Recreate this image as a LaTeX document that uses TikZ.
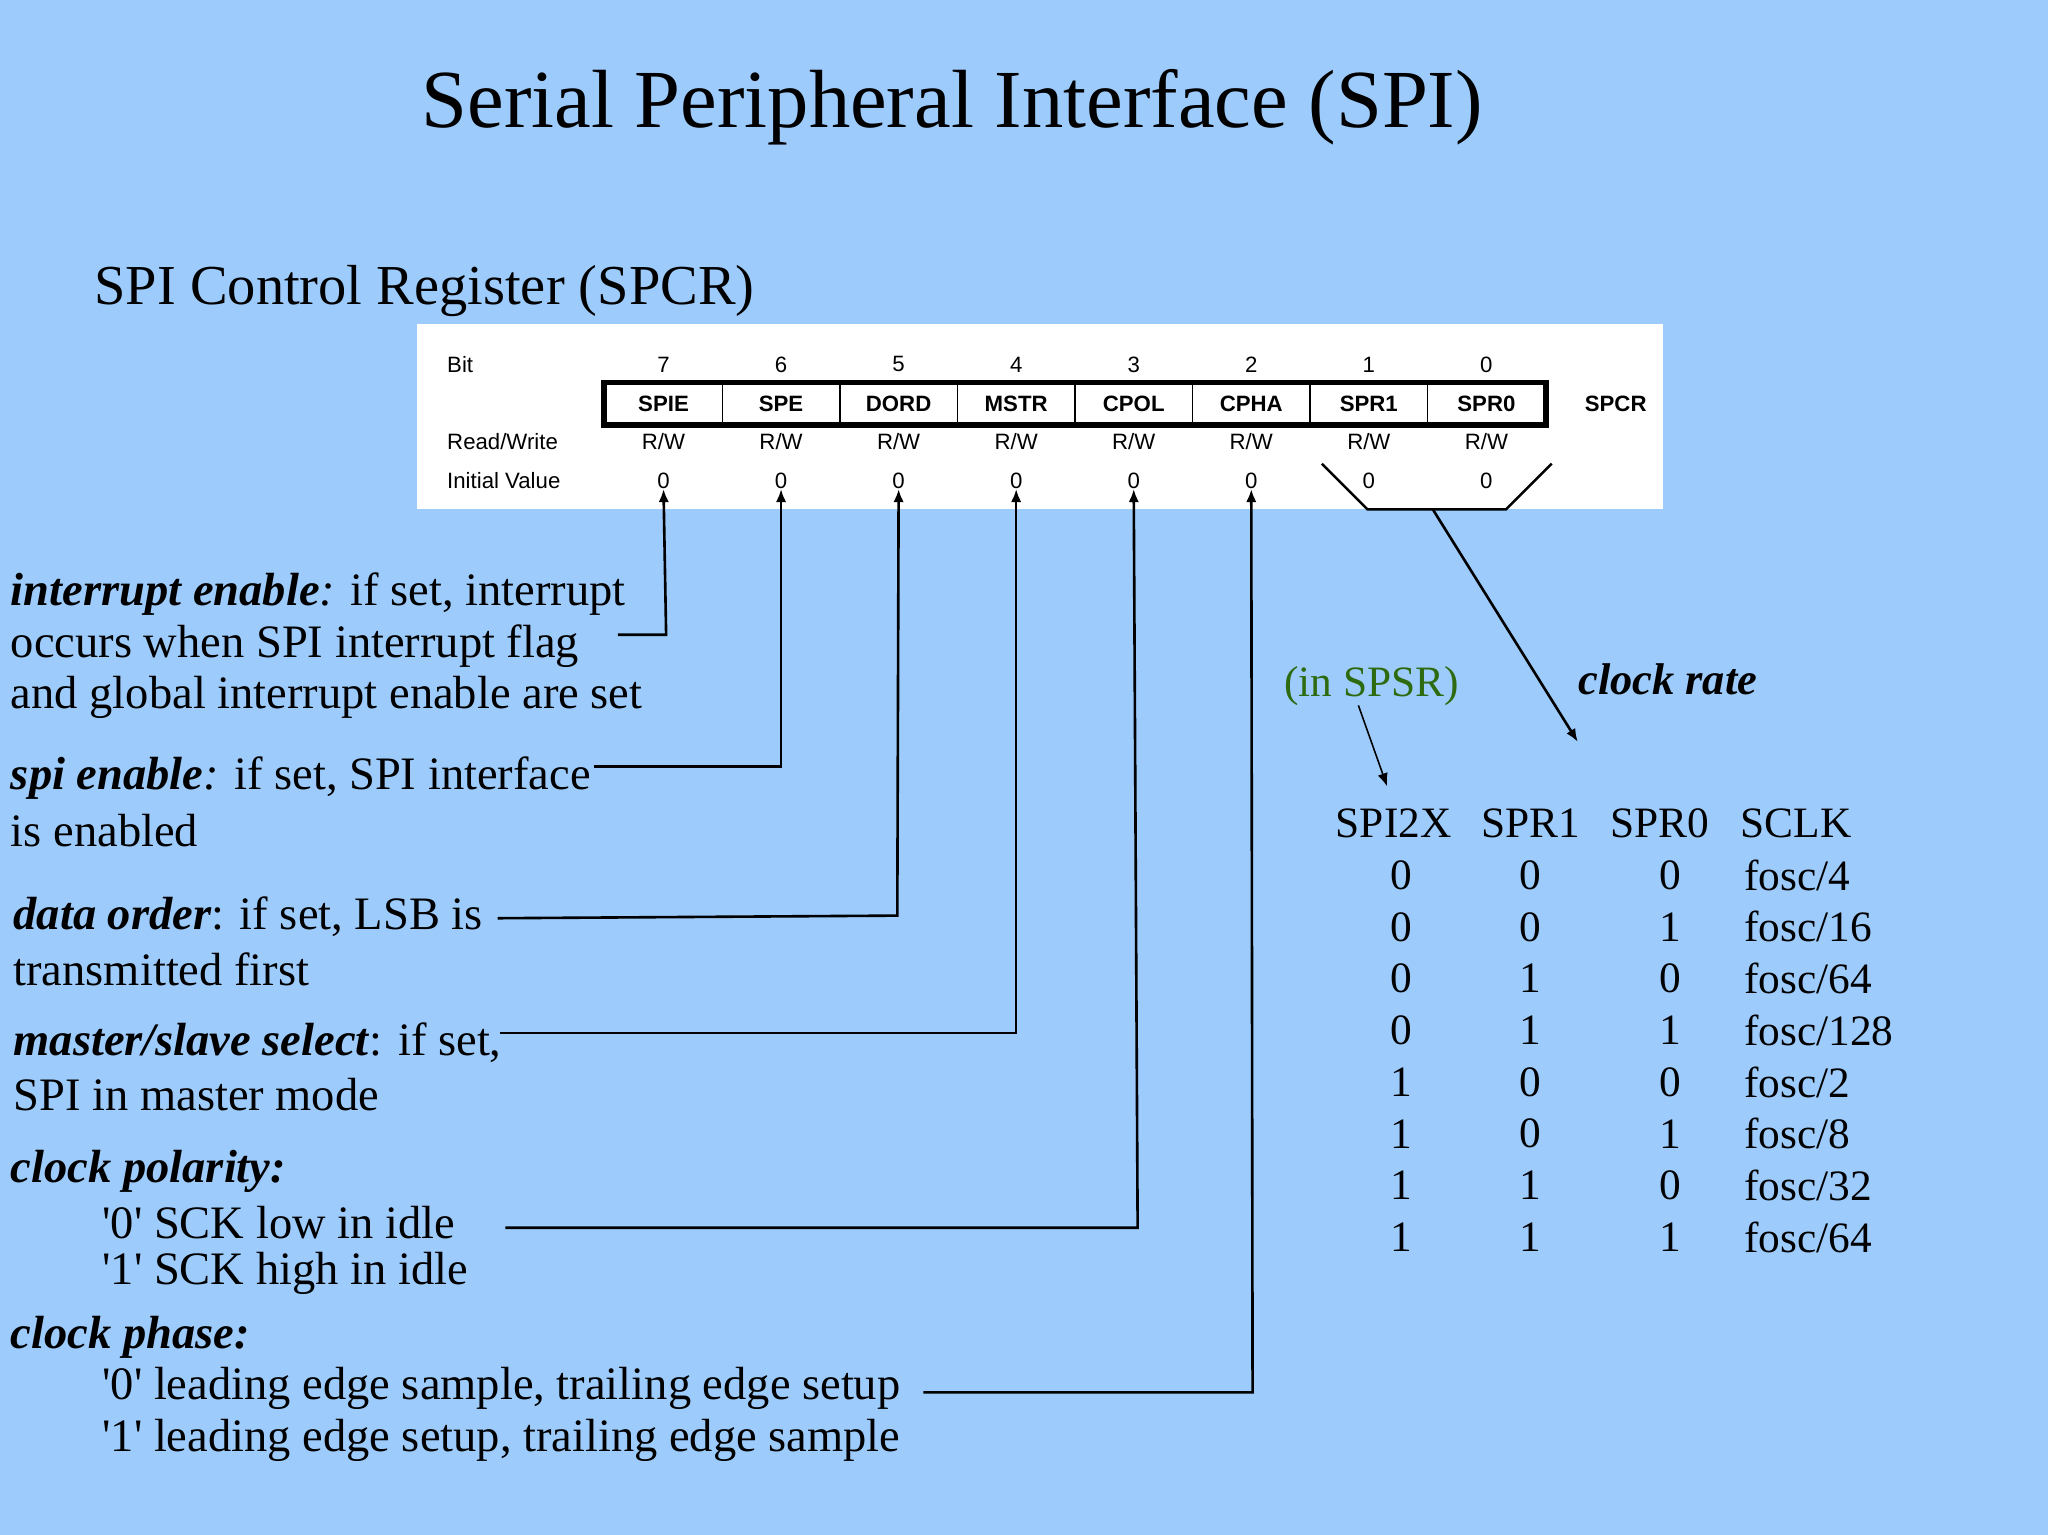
\documentclass[tikz,border=0pt]{standalone}
\usepackage{fontspec}
\setmainfont{Liberation Serif}
\newfontfamily\regfont{Liberation Sans}
\usetikzlibrary{arrows.meta}
\definecolor{bg}{HTML}{9DCBFB}
\definecolor{grn}{HTML}{2E6B10}
\begin{document}
\begin{tikzpicture}[x={(0.5pt,0)},y={(0,-0.5pt)},
  txt/.style={anchor=west,inner sep=0pt,yshift=-2pt,font=\fontsize{17.8}{20}\selectfont},
  reg/.style={inner sep=0pt,font=\regfont\fontsize{8.5}{10}\selectfont},
  regb/.style={reg,font=\regfont\bfseries\fontsize{8.5}{10}\selectfont},
  cell/.style={draw,line width=0.6pt,minimum width=45pt,minimum height=15.5pt,inner sep=0pt,font=\regfont\bfseries\fontsize{8.5}{10}\selectfont},
  lead/.style={line width=1pt},
  arr/.style={line width=1pt,-{Latex[length=5pt,width=4pt]}},
  tb/.style={inner sep=0pt,yshift=-1pt,font=\fontsize{16.6}{18}\selectfont}]
\fill[bg] (0,0) rectangle (1568,1175);
\useasboundingbox (0,0) rectangle (1568,1175);
\node[inner sep=0pt,yshift=-2pt,font=\fontsize{31.6}{36}\selectfont] (title) at (729,78) {Serial Peripheral Interface (SPI)};
\node[anchor=west,inner sep=0pt,yshift=-2pt,font=\fontsize{21.6}{24}\selectfont] (sub) at (72,219) {SPI Control Register (SPCR)};
\fill[white] (319,248) rectangle (1273,390);
\node[reg,anchor=west] (bitl) at (342,279) {Bit};
\node[reg,anchor=west] (rwl) at (342,338) {Read/Write};
\node[reg,anchor=west] (ivl) at (342,368) {Initial Value};
\foreach \n/\name [count=\i from 0] in {7/SPIE,6/SPE,5/DORD,4/MSTR,3/CPOL,2/CPHA,1/SPR1,0/SPR0}{
  \pgfmathsetmacro\xx{508+90*\i}
  \node[reg] (b\n) at (\xx,279) {\n};
  \node[cell] (c\n) at (\xx,309) {\name};
  \node[reg] (rw\n) at (\xx,338) {R/W};
  \node[reg] (iv\n) at (\xx,368) {0};
}
\draw[line width=2.2pt] (c7.north west) rectangle (c0.south east);
\node[regb] (spcr) at (1237,309) {SPCR};
\coordinate (bl) at (1012,355); \coordinate (bm1) at (1047,390);
\coordinate (bm) at (1097,390); \coordinate (bm2) at (1153,390); \coordinate (br) at (1188,355);
\draw[lead] (bl) -- (bm1) -- (bm2) -- (br);
\coordinate (crt) at (1208,568);
\draw[arr] (bm) -- (crt);
\node[tb,anchor=west,font=\bfseries\itshape\fontsize{17}{18}\selectfont] (clk) at (1208,518) {clock rate};
\node[tb,anchor=west,text=grn] (spsr) at (983,523) {(in SPSR)};
\coordinate (spsrt) at (1062,602);
\draw[line width=0.6pt,-{Latex[length=5pt,width=4pt]}] (1040,540) -- (spsrt);
\node[tb] (h1) at (1067,628) {SPI2X};
\node[tb] (h2) at (1172,628) {SPR1};
\node[tb] (h3) at (1271,628) {SPR0};
\node[tb] (h4) at (1375,628) {SCLK};
\foreach \a/\b/\c/\f [count=\i from 0] in {0/0/0/4,0/0/1/16,0/1/0/64,0/1/1/128,1/0/0/2,1/0/1/8,1/1/0/32,1/1/1/64}{
  \pgfmathsetmacro\yy{668+39.6*\i}
  \node[tb] (ta\i) at (1073,\yy) {\a};
  \node[tb] (tb\i) at (1172,\yy) {\b};
  \node[tb] (tc\i) at (1279,\yy) {\c};
  \node[tb,anchor=west] (tf\i) at (1335,\yy) {fosc/\f};
}
\node[txt] (t1) at (8,451) {\textbf{\textit{interrupt enable}}\textit{:} if set, interrupt};
\node[txt] (t2) at (8,491) {occurs when SPI interrupt flag};
\node[txt] (t3) at (8,530) {and global interrupt enable are set};
\node[txt] (t4) at (8,592) {\textbf{\textit{spi enable}}\textit{:} if set, SPI interface};
\node[txt] (t5) at (8,632) {is enabled};
\node[txt] (t6) at (10,698) {\textbf{\textit{data order}}: if set, LSB is};
\node[txt] (t7) at (10,738) {transmitted first};
\node[txt] (t8) at (10,794) {\textbf{\textit{master/slave select}}: if set,};
\node[txt] (t9) at (10,834) {SPI in master mode};
\node[txt] (t10) at (8,893) {\textbf{\textit{clock polarity:}}};
\node[txt] (t11) at (78,932) {\textquotesingle0\textquotesingle\ SCK low in idle};
\node[txt] (t12) at (78,971) {\textquotesingle1\textquotesingle\ SCK high in idle};
\node[txt] (t13) at (8,1020) {\textbf{\textit{clock phase:}}};
\node[txt] (t14) at (78,1059) {\textquotesingle0\textquotesingle\ leading edge sample, trailing edge setup};
\node[txt] (t15) at (78,1099) {\textquotesingle1\textquotesingle\ leading edge setup, trailing edge sample};
\draw[arr] (473,486) -- (510,486) -- (iv7.south);
\draw[arr] (455,587) -- (598,587) -- (iv6.south);
\draw[arr] (381,703) -- (687,701) -- (iv5.south);
\draw[arr] (383,791) -- (778,791) -- (iv4.south);
\draw[arr] (387,940) -- (871,940) -- (iv3.south);
\draw[arr] (707,1066) -- (959,1066) -- (iv2.south);
\end{tikzpicture}
\end{document}
